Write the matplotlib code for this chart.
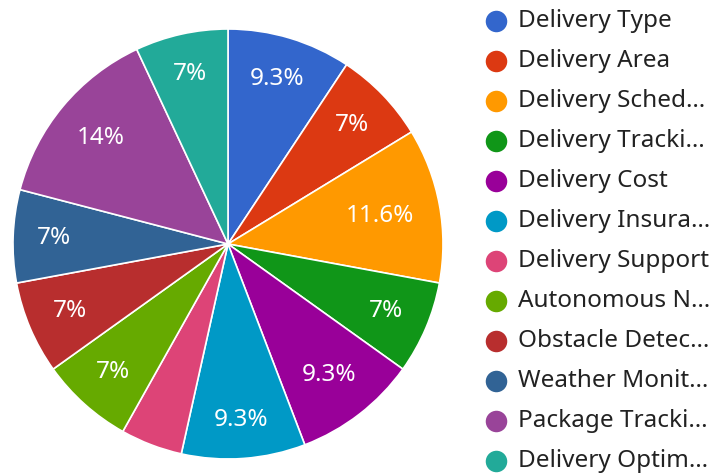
import numpy as np
import matplotlib.pyplot as plt

plt.rcParams['font.family'] = ['Noto Sans', 'DejaVu Sans']

categories = ["Delivery Type", "Delivery Area", "Delivery Sched\u2026", "Delivery Tracki\u2026",
              "Delivery Cost", "Delivery Insura\u2026", "Delivery Support", "Autonomous N\u2026",
              "Obstacle Detec\u2026", "Weather Monit\u2026", "Package Tracki\u2026", "Delivery Optim\u2026"]
counts = [4, 3, 5, 3, 4, 4, 2, 3, 3, 3, 6, 3]
slice_labels = ["9.3%", "7%", "11.6%", "7%", "9.3%", "9.3%", "", "7%", "7%", "7%", "14%", "7%"]
colors = ["#3366cc", "#dc3912", "#ff9900", "#109618", "#990099", "#0099c6",
          "#dd4477", "#66aa00", "#b82e2e", "#316395", "#994499", "#22aa99"]

W, H = 713, 474
fig = plt.figure(figsize=(W / 100, H / 100), dpi=100)

# pie centred at (228, 244) px, radius 215 px
cx, cy, r = 228, 244, 215
ax = fig.add_axes([(cx - r) / W, (H - cy - r) / H, 2 * r / W, 2 * r / H])
wedges, _ = ax.pie(counts, colors=colors, startangle=90, counterclock=False, radius=1,
                   wedgeprops=dict(edgecolor="white", linewidth=1.2))

# slice labels, placed roughly where the chart puts them (wider text sits further in)
label_r = [0.80, 0.80, 0.72, 0.80, 0.77, 0.82, 0.8, 0.80, 0.80, 0.81, 0.77, 0.81]
for w, lab, rr in zip(wedges, slice_labels, label_r):
    if not lab:
        continue
    mid = np.deg2rad((w.theta1 + w.theta2) / 2)
    ax.text(rr * np.cos(mid), rr * np.sin(mid), lab, color="white", fontsize=17.5,
            ha="center", va="center")

ax.set_xlim(-1, 1)
ax.set_ylim(-1, 1)
ax.set_aspect("equal")
ax.axis("off")

# legend drawn in pixel coordinates
lg = fig.add_axes([0, 0, 1, 1])
lg.set_xlim(0, W)
lg.set_ylim(H, 0)
lg.axis("off")
for i, (name, col) in enumerate(zip(categories, colors)):
    y = 21 + i * 40
    lg.scatter([496], [y], s=240, color=col, linewidths=0)
    lg.text(518, y, name, fontsize=17.5, color="#222222", va="center", ha="left")

fig.savefig("out.png", dpi=100)
